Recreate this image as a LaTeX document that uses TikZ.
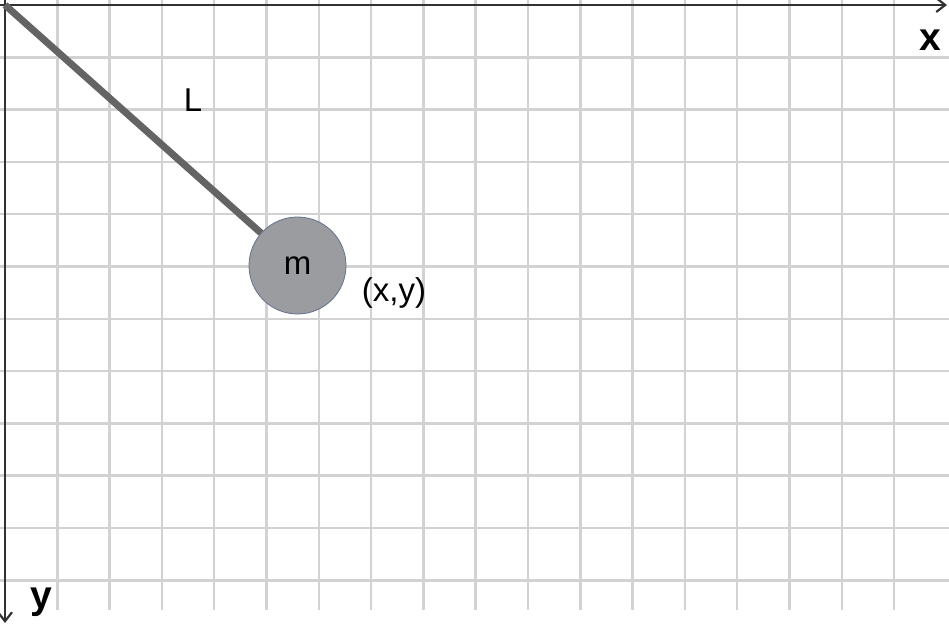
\documentclass[tikz,border=0pt]{standalone}
\usepackage{fontspec}
\setmainfont{Liberation Sans}
\usetikzlibrary{arrows.meta}
\definecolor{gridgray}{RGB}{210,210,210}
\definecolor{axisgray}{RGB}{50,50,50}
\definecolor{rodgray}{RGB}{100,100,100}
\definecolor{massfill}{RGB}{154,156,160}
\definecolor{massedge}{RGB}{100,115,140}
\begin{document}
\begin{tikzpicture}[x=1pt,y=-1pt,every node/.style={font=\fontsize{33}{38}\selectfont,inner sep=0pt}]
	\useasboundingbox (0,0) rectangle (949,627);
	\clip (0,0) rectangle (949,627);

	%grid
	\foreach \i in {1,...,17}
		\draw[gridgray,line width=2.5pt] (5+52.3*\i,0) -- (5+52.3*\i,610);
	\foreach \j in {1,...,11}
		\draw[gridgray,line width=2.5pt] (0,5+52.3*\j) -- (949,5+52.3*\j);

	%axes
	\coordinate (o) at (5,5);
	\coordinate (xend) at (947,5);
	\coordinate (yend) at (5,623);
	\draw[axisgray,line width=2.2pt,-{Straight Barb[length=9pt,width=14pt]}] (0,5) -- (xend);
	\draw[axisgray,line width=2.2pt,-{Straight Barb[length=9pt,width=14pt]}] (5,0) -- (yend);
	\node (xlab) at (930,40) {\fontsize{39}{42}\selectfont\bfseries x};
	\node (ylab) at (41,602) {\fontsize{39}{42}\selectfont\bfseries y};

	%pendulum
	\node[circle,draw=massedge,fill=massfill,line width=0.8pt,minimum size=97pt] (m) at (297.5,265.5) {m};
	\draw[rodgray,line width=7pt] (o) -- (m);
	\node (len) at (193,100) {L};
	\node (pos) at (394,293) {(x,y)};
\end{tikzpicture}
\end{document}
